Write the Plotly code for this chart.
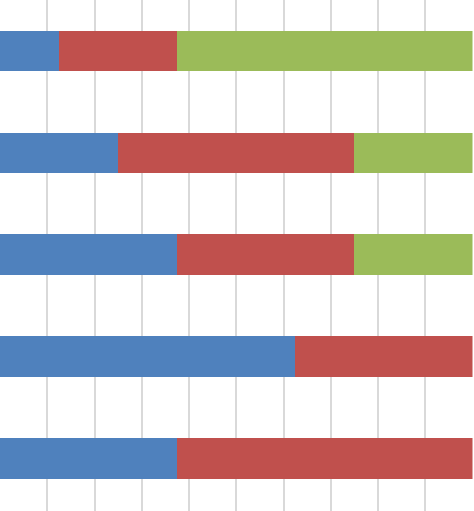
import plotly.graph_objects as go

categories = ["Item 1", "Item 2", "Item 3", "Item 4", "Item 5"]
series_a = [1, 2, 3, 5, 3]
series_b = [2, 4, 3, 3, 5]
series_c = [5, 2, 2, 0, 0]

colors = ["#4F81BD", "#C0504D", "#9BBB59"]
names = ["Series 1", "Series 2", "Series 3"]

fig = go.Figure()
for name, vals, col in zip(names, [series_a, series_b, series_c], colors):
    fig.add_trace(go.Bar(
        y=categories, x=vals, name=name, orientation="h",
        marker=dict(color=col, line=dict(width=0)), width=0.4,
    ))

fig.update_layout(
    barmode="stack", barnorm="percent",
    width=474, height=511,
    margin=dict(l=0, r=0, t=0, b=0),
    paper_bgcolor="white", plot_bgcolor="white",
    showlegend=False,
    xaxis=dict(range=[0, 100], dtick=10, showgrid=True, gridcolor="#D9D9D9",
               gridwidth=1.5, zeroline=False, showticklabels=False,
               showline=False, domain=[0, 472.5 / 474]),
    yaxis=dict(type="category", range=[4.515, -0.5006], showgrid=False,
               showticklabels=False, zeroline=False, showline=False),
)

fig.write_html("out.html",
               config={"displayModeBar": False},
               post_script="document.body.style.margin='0';document.body.style.overflow='hidden';")
